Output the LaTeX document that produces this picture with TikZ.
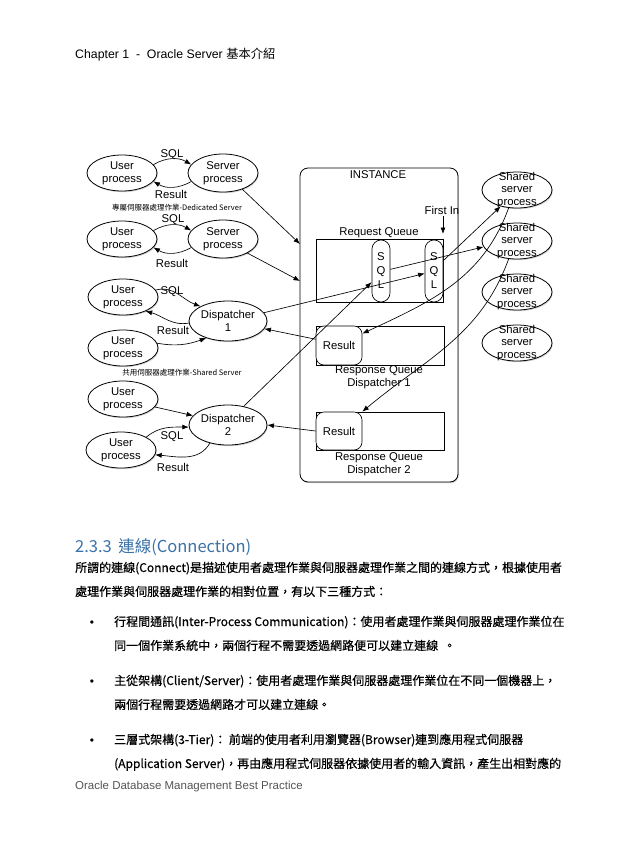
\documentclass[tikz,border=0pt]{standalone}
\usepackage{fontspec}
\setmainfont{Liberation Sans}
\newfontfamily\cjk{Noto Sans CJK TC}
\newfontfamily\cjkm[FakeBold=0.5]{Noto Sans CJK TC}
\usetikzlibrary{shapes.geometric, arrows.meta, shadows}
\definecolor{headblue}{HTML}{3A72A8}
\definecolor{footgray}{HTML}{555555}
\begin{document}
\begin{tikzpicture}[x=1pt,y=1pt,
  arr/.style={-{Latex[length=6.5pt,width=5pt]}, line width=0.65pt},
  shd/.style={drop shadow={shadow xshift=0.8pt, shadow yshift=-1.2pt, opacity=0.35}},
  proc/.style={ellipse, draw, line width=0.8pt, fill=white, shd, inner sep=0pt, align=center,
     font=\fontsize{11.3}{13}\selectfont},
  userp/.style={proc, minimum width=70pt, minimum height=36pt},
  servp/.style={proc, minimum width=70pt, minimum height=38pt},
  disp/.style={proc, minimum width=78pt, minimum height=40pt},
  shp/.style={proc, minimum width=70pt, minimum height=36pt},
  txt/.style={inner sep=0pt, align=center, font=\fontsize{11.3}{13}\selectfont},
  small/.style={inner sep=0pt, font=\cjk\fontsize{7.5}{9}\selectfont},
  qbox/.style={draw, line width=0.65pt, fill=white},
  pill/.style={draw, line width=0.65pt, fill=white, rounded corners=9pt, minimum width=18pt, minimum height=62pt, inner sep=0pt, align=center, font=\fontsize{11.3}{14}\selectfont},
  resbox/.style={draw, line width=0.65pt, fill=white, rounded corners=8pt, minimum width=46pt, inner sep=0pt, font=\fontsize{11.3}{13}\selectfont},
  body/.style={anchor=base west, inner sep=0pt, font=\cjkm\fontsize{12}{14}\selectfont},
  bul/.style={anchor=base, inner sep=0pt, font=\fontsize{12}{14}\selectfont}
]
\useasboundingbox (0,0) rectangle (638,-863);
\fill[white] (0,0) rectangle (638,-863);

% header
\node[anchor=base west, inner sep=0pt, font=\fontsize{12.3}{14}\selectfont] (hdr) at (75,-58) {Chapter 1 \ - \ Oracle Server {\cjk 基本介紹}};

% INSTANCE
\node[draw, line width=0.8pt, rounded corners=8pt, minimum width=158pt, minimum height=314pt, fill=white, shd] (inst) at (379,-325) {};
\node[txt] (instl) at (378,-175) {INSTANCE};
\node[txt] (fil) at (442,-210) {First In};
\coordinate (fiA) at (443,-216);
\coordinate (fiB) at (443,-234);
\draw[arr] (fiA) -- (fiB);
\node[txt] (rql) at (379,-233) {Request Queue};
\node[qbox, minimum width=127pt, minimum height=63pt] (rq) at (379.5,-270.5) {};
\node[pill] (sql1) at (381,-271) {S\\Q\\L};
\node[pill] (sql2) at (434,-271) {S\\Q\\L};

\node[qbox, minimum width=128pt, minimum height=39pt] (rsq1) at (380,-345.5) {};
\node[resbox, minimum height=39pt] (r1) at (339,-345.5) {Result};
\node[txt] (rsl1) at (379,-377.5) {Response Queue\\Dispatcher 1};
\node[qbox, minimum width=128pt, minimum height=38pt] (rsq2) at (380,-431) {};
\node[resbox, minimum height=38pt] (r2) at (339,-431) {Result};
\node[txt] (rsl2) at (379,-464.5) {Response Queue\\Dispatcher 2};

% left processes
\node[userp] (u1) at (122,-173) {User\\process};
\node[servp] (s1) at (223,-173) {Server\\process};
\node[userp] (u2) at (122,-239) {User\\process};
\node[servp] (s2) at (223,-239) {Server\\process};
\node[userp] (u3) at (123,-297) {User\\process};
\node[disp] (d1) at (228,-321) {Dispatcher\\1};
\node[userp] (u4) at (123,-348) {User\\process};
\node[userp] (u5) at (123,-399) {User\\process};
\node[disp] (d2) at (228,-425) {Dispatcher\\2};
\node[userp] (u6) at (121,-450) {User\\process};

% shared servers
\foreach \i/\y in {1/190,2/241,3/292,4/343}{
  \node[shp] (sh\i) at (517,-\y) {};
  \node[txt, font=\fontsize{11.3}{12.5}\selectfont] (sht\i) at (517,-\y) {Shared\\server\\process};
}

% labels
\node[txt] (q1) at (172,-155) {SQL};
\node[txt] (a1) at (171,-194) {Result};
\node[small] (ded) at (177,-208) {專屬伺服器處理作業-Dedicated Server};
\node[txt] (q2) at (173,-220) {SQL};
\node[txt] (a2) at (172,-263) {Result};
\node[txt] (q3) at (172,-292) {SQL};
\node[txt] (a3) at (173,-330) {Result};
\node[small] (shs) at (182,-373) {共用伺服器處理作業-Shared Server};
\node[txt] (q4) at (172,-437) {SQL};
\node[txt] (a4) at (173,-467) {Result};

% dedicated connectors
\draw[arr] (u1.15) to[bend left=30] (s1.165);
\draw[arr] (s1.195) to[bend left=30] (u1.-15);
\draw[arr] (u2.15) to[bend left=30] (s2.165);
\draw[arr] (s2.195) to[bend left=30] (u2.-15);
\coordinate (inA) at (300,-244);
\coordinate (inB) at (300,-281);
\draw[arr] (s1.-40) -- (inA);
\draw[arr] (s2.-30) -- (inB);

% dispatcher 1
\draw[arr] (u3.12) to[out=15,in=160] (d1.152);
\draw[arr] (d1.183) to[out=190,in=-15] (u3.-32);
\draw[arr] (u4.8) to[out=-10,in=200] (d1.218);
\draw[arr] (d1.13) -- (sql2.195);
\draw[arr] (r1.165) -- (d1.-12);

% dispatcher 2
\draw[arr] (u5.-14) -- (d2.165);
\draw[arr] (u6.27) to[out=40,in=180] (d2.183);
\draw[arr] (d2.225) to[out=240,in=-5] (u6.-8);
\draw[arr] (r2.west) -- (d2.east);
\draw[arr] (d2.50) -- (sql1.230);

% request to shared
\draw[arr] (sql1.10) -- (sh2.190);
\draw[arr] (sql2.48) -- (sh1.225);
\draw[arr] (sh1.245) to[out=250,in=25] (r1.27);
\draw[arr] (sh2.245) to[out=250,in=40] (r2.north east);

% text section
\node[anchor=base west, inner sep=0pt, font=\cjk\fontsize{16.5}{18}\selectfont, text=headblue] (h233) at (75,-552) {2.3.3\, 連線(Connection)};
\node[body] (p1) at (75,-572) {所謂的連線(Connect)是描述使用者處理作業與伺服器處理作業之間的連線方式，根據使用者};
\node[body] (p2) at (75,-596) {處理作業與伺服器處理作業的相對位置，有以下三種方式：};

\node[bul] (b1) at (92,-626) {•};
\node[body] (l1) at (114,-626) {行程間通訊(Inter-Process Communication)：使用者處理作業與伺服器處理作業位在};
\node[body] (l2) at (114,-650) {同一個作業系統中，兩個行程不需要透過網路便可以建立連線 \ 。};
\node[bul] (b2) at (92,-685) {•};
\node[body] (l3) at (114,-685) {主從架構(Client/Server)：使用者處理作業與伺服器處理作業位在不同一個機器上，};
\node[body] (l4) at (114,-709) {兩個行程需要透過網路才可以建立連線。};
\node[bul] (b3) at (92,-744) {•};
\node[body] (l5) at (114,-744) {三層式架構(3-Tier)： 前端的使用者利用瀏覽器(Browser)連到應用程式伺服器};
\node[body] (l6) at (114,-768) {(Application Server)，再由應用程式伺服器依據使用者的輸入資訊，產生出相對應的};

\node[anchor=base west, inner sep=0pt, font=\fontsize{11.5}{13}\selectfont, text=footgray] (foot) at (75,-789) {Oracle Database Management Best Practice};
\end{tikzpicture}
\end{document}
